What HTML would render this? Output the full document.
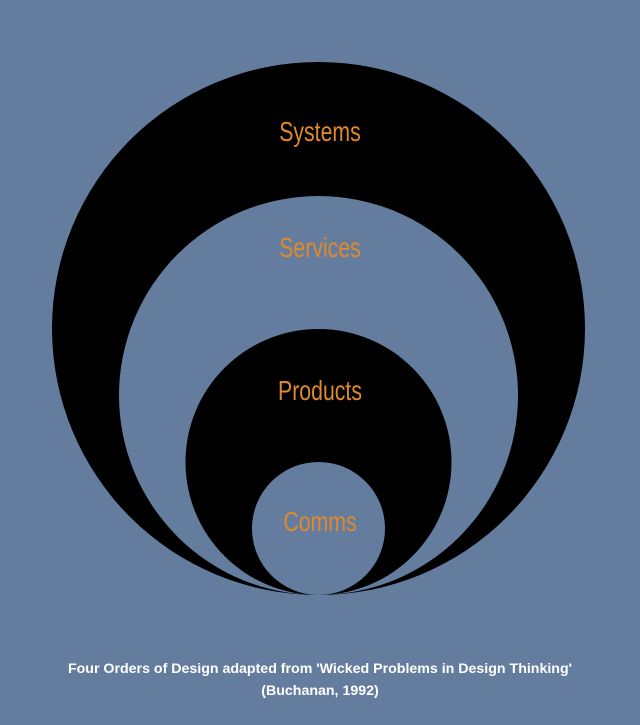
<!DOCTYPE html>
<html><head><meta charset="utf-8"><style>
html,body{margin:0;padding:0;background:#647d9f;}
body{width:640px;height:725px;overflow:hidden;position:relative;}
.cap{position:absolute;left:0;width:640px;top:658px;text-align:center;color:#fff;font:bold 14.2px/22px "Liberation Sans",sans-serif;}
</style></head><body>
<svg width="640" height="725" style="position:absolute;left:0;top:0">
<circle cx="318.5" cy="328.5" r="266.5" fill="#000"/>
<circle cx="318.5" cy="395.5" r="199.5" fill="#647d9f"/>
<circle cx="318.5" cy="462" r="133" fill="#000"/>
<circle cx="318.5" cy="528.5" r="66.5" fill="#647d9f"/>
<g fill="#e0892c" font-family="'Liberation Sans Narrow','Liberation Sans',sans-serif" font-size="28" text-anchor="middle">
<text transform="translate(320,141) scale(0.76,1)">Systems</text>
<text transform="translate(320,257) scale(0.76,1)">Services</text>
<text transform="translate(320,400) scale(0.76,1)">Products</text>
<text transform="translate(320,531) scale(0.76,1)">Comms</text>
</g>
</svg>
<div class="cap">Four Orders of Design adapted from 'Wicked Problems in Design Thinking'<br>(Buchanan, 1992)</div>
</body></html>
